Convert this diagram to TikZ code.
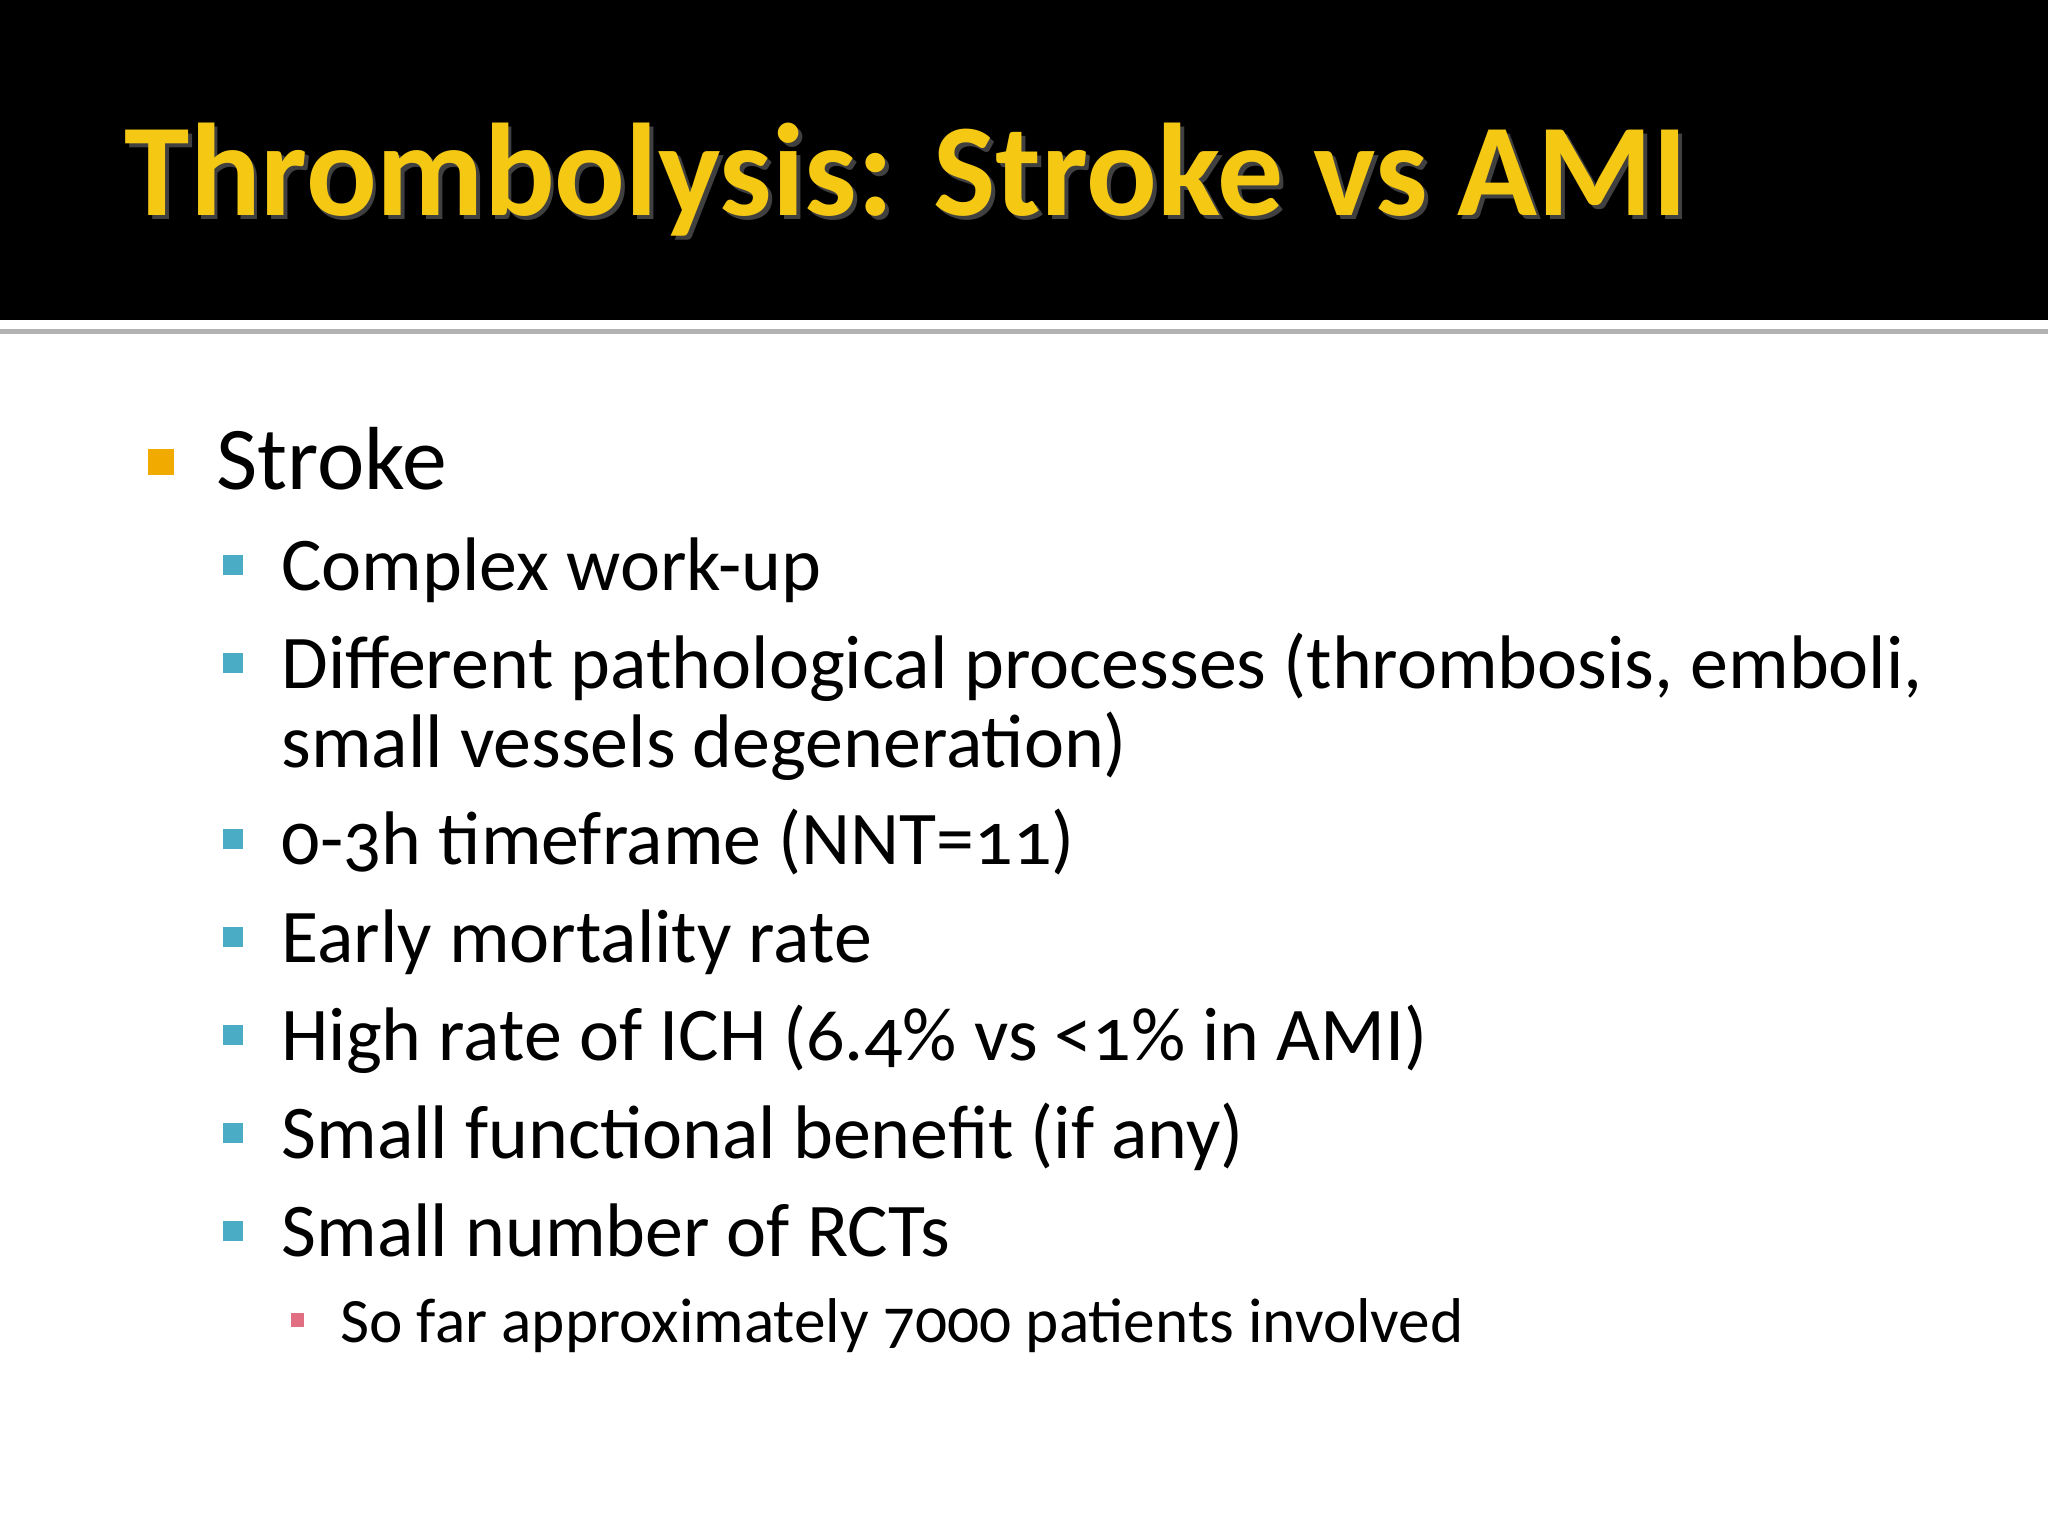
\documentclass[tikz,border=0pt]{standalone}
\usepackage{fontspec}
\setmainfont{Carlito}[Numbers=OldStyle]
\definecolor{ttl}{RGB}{245,200,20}
\definecolor{orb}{RGB}{240,170,0}
\definecolor{blb}{RGB}{75,172,198}
\definecolor{pkb}{RGB}{226,110,130}
\begin{document}
\begin{tikzpicture}[x=0.013061cm,y=-0.013061cm,
  lone/.style={anchor=base west,inner sep=0pt,font=\fontsize{25.5}{30}\selectfont},
  ltwo/.style={anchor=base west,inner sep=0pt,font=\fontsize{21.6}{26}\selectfont,align=left},
  lthree/.style={anchor=base west,inner sep=0pt,font=\fontsize{18}{22}\selectfont}]
\useasboundingbox (0,0) rectangle (1568,1176);
\fill[white] (0,0) rectangle (1568,1176);
\fill[black] (0,0) rectangle (1568,245);
\fill[gray!60] (0,252) rectangle (1568,256);
\node[anchor=base west,inner sep=0pt,font=\bfseries\fontsize{37.5}{42}\selectfont,text=black!75] at (98,168) {Thrombolysis: Stroke vs AMI};
\node[anchor=base west,inner sep=0pt,font=\bfseries\fontsize{37.5}{42}\selectfont,text=ttl] (title) at (95,165) {Thrombolysis: Stroke vs AMI};
\fill[orb] (113,344) rectangle (133,364);
\node[lone] (s) at (165,375) {Stroke};
\foreach \y/\t [count=\i] in {452/Complex work-up,588/{small vessels degeneration)},662/{0-3h timeframe (NNT=11)},737/Early mortality rate,812/{High rate of ICH (6.4\% vs <1\% in AMI)},887/Small functional benefit (if any),962/Small number of RCTs}{
  \node[ltwo] (b\i) at (215,\y) {\t};
}
\node[ltwo] (bd) at (215,527) {Different pathological processes (thrombosis, emboli,};
\foreach \y in {452,527,662,737,812,887,962}{
  \fill[blb] (171,\y-27) rectangle (186,\y-12);
}
\fill[pkb] (223,1005) rectangle (233,1016);
\node[lthree] (c) at (260,1028) {So far approximately 7000 patients involved};
\end{tikzpicture}
\end{document}
